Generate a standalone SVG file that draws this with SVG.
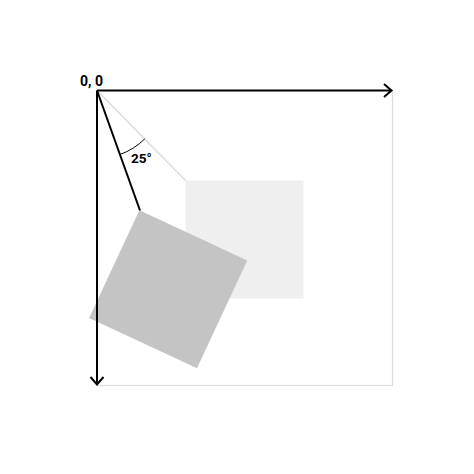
<svg xmlns="http://www.w3.org/2000/svg" width="474" height="474" viewBox="0 0 474 474">
<style>
.ax{stroke:#000;stroke-width:2;fill:none}
.lbl{font-family:Roboto,"Liberation Sans",sans-serif;font-weight:bold;fill:#000}
</style>
<rect width="474" height="474" fill="#fff"/>
<g id="frame"><rect x="97" y="90.5" width="295.5" height="295" fill="none" stroke="#dcdcdc" stroke-width="1.2"/></g>
<g id="square"><rect x="185.5" y="180.5" width="118" height="118" fill="#efefef"/></g>
<g id="rotated"><rect x="186" y="181" width="119" height="119" fill="#c4c4c4" transform="rotate(25 97 90.5)"/></g>
<g id="connectors">
<line x1="97" y1="90.5" x2="186" y2="181" stroke="#dcdcdc" stroke-width="1.5"/>
<line x1="97" y1="90.5" x2="140" y2="210.5" stroke="#000" stroke-width="2"/>
<path d="M144.8 138.8 A68 68 0 0 1 120 154.5" fill="none" stroke="#000" stroke-width="1"/>
<line class="ax" x1="97" y1="90.5" x2="391" y2="90.5"/>
<polyline class="ax" points="384,84 391.5,90.5 384,97"/>
<line class="ax" x1="97" y1="90.5" x2="97" y2="384.5"/>
<polyline class="ax" points="90.5,377 97,384.5 103.5,377"/>
</g>
<g id="labels">
<text class="lbl" x="80" y="86" font-size="14">0, 0</text>
<text class="lbl" x="131" y="163" font-size="13.5">25°</text>
</g>
</svg>
